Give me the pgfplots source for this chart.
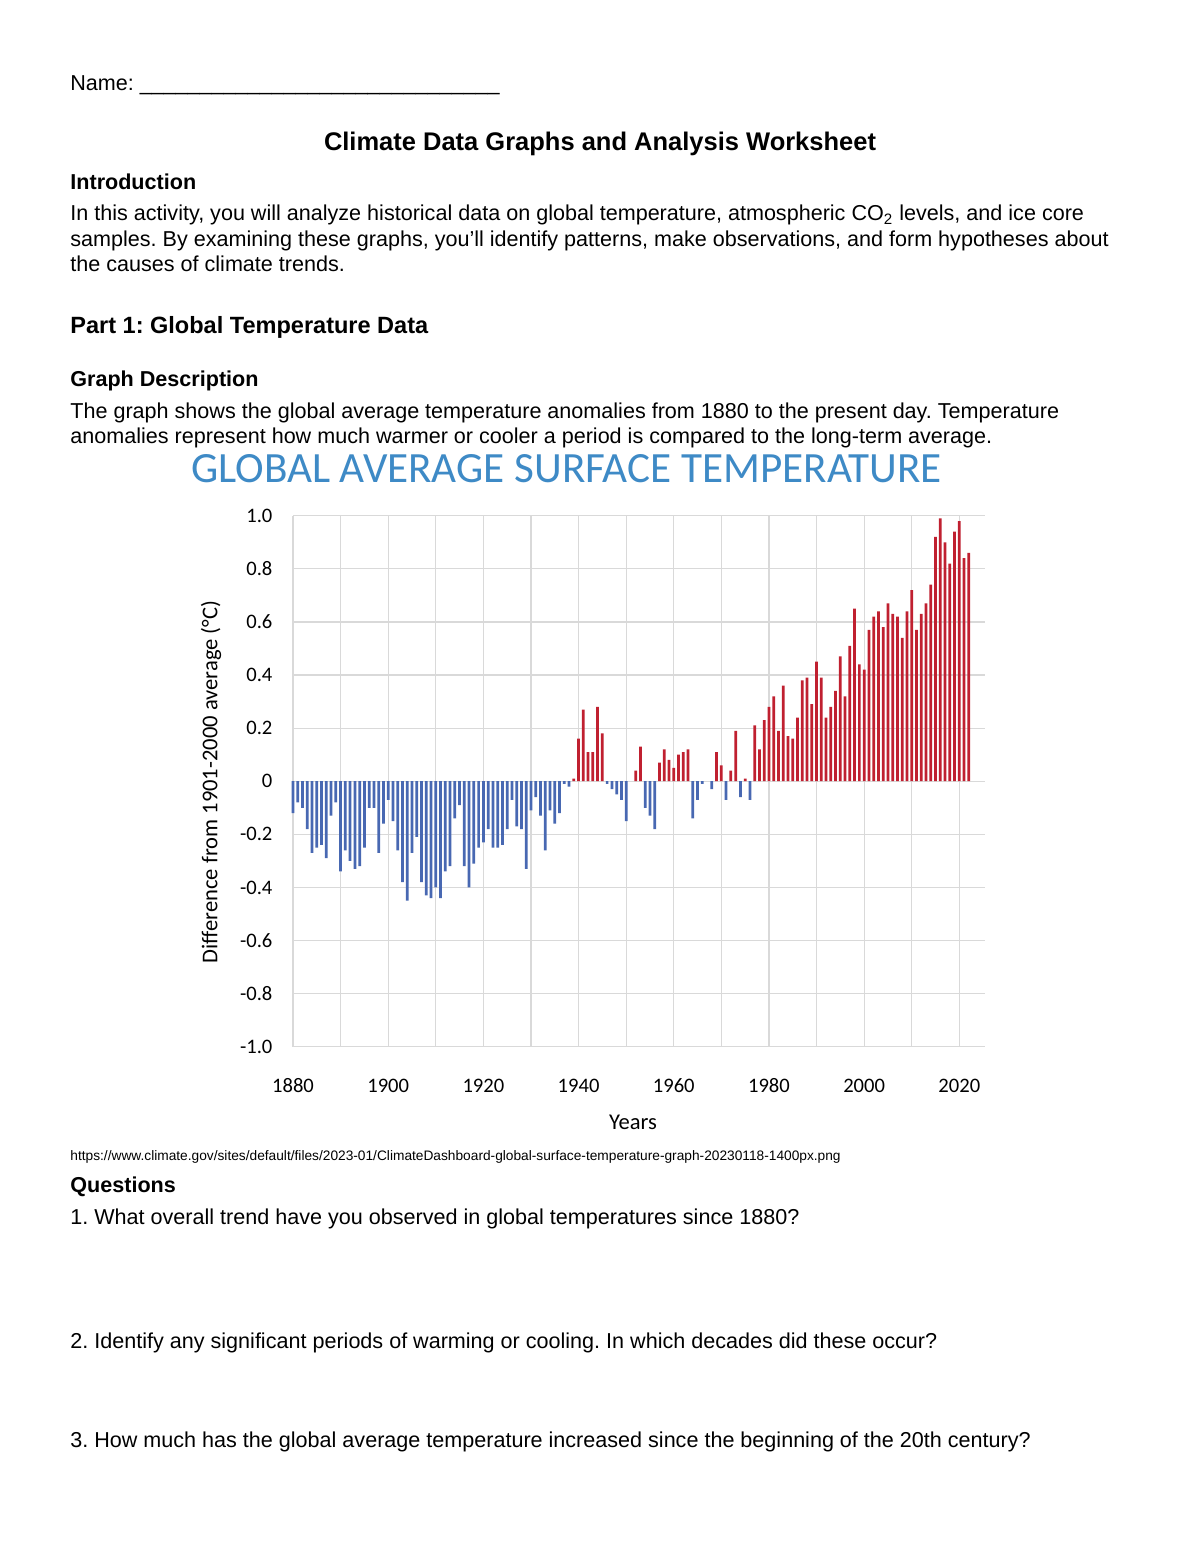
\documentclass[border=0pt]{standalone}
\usepackage{fontspec}
\setmainfont{Liberation Sans}
\newfontfamily\calibri{Carlito}
\usepackage{pgfplots}
\usepackage{pgfplotstable}
\pgfplotsset{compat=1.18}
\frenchspacing

\definecolor{titleblue}{RGB}{62,138,198}
\definecolor{barblue}{RGB}{72,104,178}
\definecolor{barred}{RGB}{192,32,48}
\definecolor{gridgray}{RGB}{217,217,217}

% global temperature anomaly vs 1901-2000 average (deg C)
\pgfplotstableread{
year t
1880 -0.12
1881 -0.08
1882 -0.10
1883 -0.18
1884 -0.27
1885 -0.25
1886 -0.24
1887 -0.29
1888 -0.13
1889 -0.08
1890 -0.34
1891 -0.26
1892 -0.30
1893 -0.33
1894 -0.32
1895 -0.25
1896 -0.10
1897 -0.10
1898 -0.27
1899 -0.16
1900 -0.07
1901 -0.15
1902 -0.26
1903 -0.38
1904 -0.45
1905 -0.27
1906 -0.21
1907 -0.38
1908 -0.43
1909 -0.44
1910 -0.40
1911 -0.44
1912 -0.34
1913 -0.32
1914 -0.14
1915 -0.09
1916 -0.32
1917 -0.40
1918 -0.31
1919 -0.25
1920 -0.23
1921 -0.18
1922 -0.25
1923 -0.25
1924 -0.24
1925 -0.18
1926 -0.07
1927 -0.17
1928 -0.18
1929 -0.33
1930 -0.11
1931 -0.06
1932 -0.13
1933 -0.26
1934 -0.11
1935 -0.16
1936 -0.12
1937 -0.01
1938 -0.02
1939 0.01
1940 0.16
1941 0.27
1942 0.11
1943 0.11
1944 0.28
1945 0.18
1946 -0.01
1947 -0.03
1948 -0.05
1949 -0.07
1950 -0.15
1951 0.00
1952 0.04
1953 0.13
1954 -0.10
1955 -0.13
1956 -0.18
1957 0.07
1958 0.12
1959 0.08
1960 0.05
1961 0.10
1962 0.11
1963 0.12
1964 -0.14
1965 -0.07
1966 -0.01
1967 0.00
1968 -0.03
1969 0.11
1970 0.06
1971 -0.07
1972 0.04
1973 0.19
1974 -0.06
1975 0.01
1976 -0.07
1977 0.21
1978 0.12
1979 0.23
1980 0.28
1981 0.32
1982 0.19
1983 0.36
1984 0.17
1985 0.16
1986 0.24
1987 0.38
1988 0.39
1989 0.29
1990 0.45
1991 0.39
1992 0.24
1993 0.28
1994 0.34
1995 0.47
1996 0.32
1997 0.51
1998 0.65
1999 0.44
2000 0.42
2001 0.57
2002 0.62
2003 0.64
2004 0.58
2005 0.67
2006 0.63
2007 0.62
2008 0.54
2009 0.64
2010 0.72
2011 0.57
2012 0.63
2013 0.67
2014 0.74
2015 0.92
2016 0.99
2017 0.90
2018 0.82
2019 0.94
2020 0.98
2021 0.84
2022 0.86
}\tempdata

\begin{document}
\begin{tikzpicture}[x=0.51pt, y=-0.51pt]
% page, in pixel units of the 1200x1553 sheet
\fill[white] (0,0) rectangle (1200,1553);
\useasboundingbox (0,0) rectangle (1200,1553);

\tikzset{body/.style={anchor=base west, inner sep=0pt, font=\fontsize{11}{13}\selectfont},
         head/.style={anchor=base west, inner sep=0pt, font=\fontsize{11}{13}\selectfont\bfseries}}

\node[body] at (70,91) {Name: \_\_\_\_\_\_\_\_\_\_\_\_\_\_\_\_\_\_\_\_\_\_\_\_\_\_\_\_\_\_};
\node[anchor=base, inner sep=0pt, font=\fontsize{13}{15}\selectfont\bfseries] at (600,151) {Climate Data Graphs and Analysis Worksheet};

\node[head] at (70,190) {Introduction};
\node[body] at (70,221) {In this activity, you will analyze historical data on global temperature, atmospheric CO\textsubscript{2} levels, and ice core};
\node[body] at (70,246) {samples. By examining these graphs, you'll identify patterns, make observations, and form hypotheses about};
\node[body] at (70,271) {the causes of climate trends.};

\node[anchor=base west, inner sep=0pt, font=\fontsize{12}{14}\selectfont\bfseries] at (70,333) {Part 1: Global Temperature Data};
\node[head] at (70,386) {Graph Description};
\node[body] at (70,418) {The graph shows the global average temperature anomalies from 1880 to the present day. Temperature};
\node[body] at (70,443) {anomalies represent how much warmer or cooler a period is compared to the long-term average.};

% chart
\node[inner sep=0pt, text=titleblue, font=\calibri\fontsize{22}{25}\selectfont] at (566.5,469) {GLOBAL AVERAGE SURFACE TEMPERATURE};

\begin{axis}[
  at={(149.43pt,-533.82pt)}, anchor=south west,
  width=352.92pt, height=270.81pt, scale only axis,
  xmin=1880, xmax=2025.4, ymin=-1, ymax=1,
  clip=false,
  axis line style={draw=none},
  tick style={draw=none},
  xtick={1880,1890,...,2020},
  xticklabels={1880,,1900,,1920,,1940,,1960,,1980,,2000,,2020},
  ytick={-1,-0.8,-0.6,-0.4,-0.2,0,0.2,0.4,0.6,0.8,1},
  yticklabels={-1.0,-0.8,-0.6,-0.4,-0.2,0,0.2,0.4,0.6,0.8,1.0},
  grid=major,
  major grid style={gridgray, line width=0.6pt},
  xticklabel style={font=\calibri\fontsize{10.5}{12}\selectfont, anchor=center, inner sep=0pt, yshift=-20pt},
  yticklabel style={font=\calibri\fontsize{10.5}{12}\selectfont, anchor=east, inner sep=0pt, xshift=-10.3pt},
]
\addplot[ybar, bar width=1.4pt, bar shift=0pt, fill=barred, draw=none, restrict y to domain=0.001:2]
  table[x=year, y=t] {\tempdata};
\addplot[ybar, bar width=1.4pt, bar shift=0pt, fill=barblue, draw=none, restrict y to domain=-2:-0.001]
  table[x=year, y=t] {\tempdata};
\end{axis}

\node[rotate=90, inner sep=0pt, font=\calibri\fontsize{11.5}{13}\selectfont] at (211,782) {Difference from 1901-2000 average (°C)};
\node[inner sep=0pt, font=\calibri\fontsize{11.5}{13}\selectfont] at (633,1122) {Years};

\node[anchor=base west, inner sep=0pt, font=\fontsize{7}{8}\selectfont] at (70,1160) {https://www.climate.gov/sites/default/files/2023-01/ClimateDashboard-global-surface-temperature-graph-20230118-1400px.png};

\node[head] at (70,1192) {Questions};
\node[body] at (70,1224) {1. What overall trend have you observed in global temperatures since 1880?};
\node[body] at (70,1348) {2. Identify any significant periods of warming or cooling. In which decades did these occur?};
\node[body] at (70,1447) {3. How much has the global average temperature increased since the beginning of the 20th century?};
\end{tikzpicture}
\end{document}
